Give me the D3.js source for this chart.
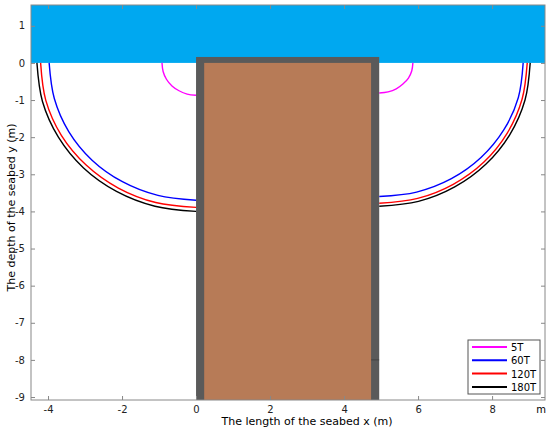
<!DOCTYPE html>
<html><head><meta charset="utf-8">
<script src="https://cdn.jsdelivr.net/npm/d3@7"></script>
<style>body{margin:0;background:#fff}text{font-family:"DejaVu Sans",sans-serif}</style>
</head><body><svg id="c" width="550" height="427"></svg>
<script>
// curve data: [x, y] in metres
const series = ["5T", "60T", "120T", "180T"];
const colors = ["#ff00ff", "#0000ff", "#ff0000", "#000000"];
const leftCurves = [
  [[-0.92,0],[-0.89,-0.23],[-0.80,-0.44],[-0.65,-0.62],[-0.46,-0.75],[-0.24,-0.84],[0,-0.87]],
  [[-3.97,0],[-3.83,-0.96],[-3.44,-1.85],[-2.81,-2.62],[-1.99,-3.20],[-1.03,-3.57],[0,-3.70]],
  [[-4.2,0],[-4.06,-1.01],[-3.64,-1.95],[-2.97,-2.75],[-2.1,-3.37],[-1.09,-3.76],[0,-3.89]],
  [[-4.3,0],[-4.15,-1.04],[-3.72,-2.0],[-3.04,-2.83],[-2.15,-3.46],[-1.11,-3.86],[0,-4.0]]
];
const rightCurves = [
  [[5.86,0],[5.83,-0.21],[5.74,-0.41],[5.59,-0.57],[5.41,-0.70],[5.19,-0.78],[4.95,-0.81]],
  [[8.84,0],[8.71,-0.93],[8.32,-1.80],[7.70,-2.55],[6.90,-3.12],[5.96,-3.48],[4.95,-3.6]],
  [[8.95,0],[8.81,-0.98],[8.41,-1.89],[7.78,-2.67],[6.95,-3.27],[5.99,-3.65],[4.95,-3.78]],
  [[9.03,0],[8.89,-1.0],[8.48,-1.93],[7.83,-2.73],[6.99,-3.34],[6.01,-3.73],[4.95,-3.86]]
];
const xTicks = [-4, -2, 0, 2, 4, 6, 8];
const yTicks = [1, 0, -1, -2, -3, -4, -5, -6, -7, -8, -9];

const svg = d3.select("#c");
const L = 31, R = 545, T = 5, B = 400;
const x = d3.scaleLinear().domain([-4.46, 9.43]).range([L, R]);
const y = d3.scaleLinear().domain([1.56, -9.08]).range([T, B]);
const fmt = d => String(d);

// water
svg.append("rect").attr("x", L).attr("y", T).attr("width", R - L)
  .attr("height", y(0) - T).attr("fill", "#00a8f0");

// curves
const line = d3.line().x(d => x(d[0])).y(d => y(d[1])).curve(d3.curveCatmullRom);
[leftCurves, rightCurves].forEach(set => set.forEach((pts, i) => {
  svg.append("path").attr("d", line(pts)).attr("fill", "none")
    .attr("stroke", colors[i]).attr("stroke-width", 1.4);
}));

// caisson
svg.append("rect").attr("x", x(0)).attr("y", y(0.16))
  .attr("width", x(4.95) - x(0)).attr("height", B - y(0.16)).attr("fill", "#5a5a5a");
svg.append("rect").attr("x", x(0.22)).attr("y", y(0))
  .attr("width", x(4.73) - x(0.22)).attr("height", B - y(0)).attr("fill", "#b77b57");
svg.append("line").attr("x1", x(4.73)).attr("x2", x(4.95)).attr("y1", y(-8)).attr("y2", y(-8))
  .attr("stroke", "#333").attr("stroke-width", 0.6);

// frame + ticks
svg.append("rect").attr("x", L).attr("y", T).attr("width", R - L).attr("height", B - T)
  .attr("fill", "none").attr("stroke", "#888");
svg.append("g").attr("transform", `translate(0,${B})`)
  .call(d3.axisBottom(x).tickValues(xTicks).tickFormat(fmt).tickSizeInner(-4).tickSizeOuter(0).tickPadding(6))
  .call(g => g.select(".domain").remove());
svg.append("g").attr("transform", `translate(${L},0)`)
  .call(d3.axisLeft(y).tickValues(yTicks).tickFormat(fmt).tickSizeInner(-4).tickSizeOuter(0).tickPadding(6))
  .call(g => g.select(".domain").remove());
svg.append("g").attr("transform", `translate(${R},0)`)
  .call(d3.axisRight(y).tickValues(yTicks).tickSize(-4).tickFormat(""))
  .call(g => g.select(".domain").remove());
svg.append("g").attr("transform", `translate(0,${T})`)
  .call(d3.axisTop(x).tickValues(xTicks).tickSize(-4).tickFormat(""))
  .call(g => g.select(".domain").remove());
svg.selectAll(".tick line").attr("stroke", "#888");
svg.selectAll(".tick text").attr("font-size", 10).attr("fill", "#222")
  .style("font-family", "DejaVu Sans");

svg.append("text").attr("x", 541).attr("y", 413).attr("font-size", 10)
  .attr("text-anchor", "middle").text("m");
svg.append("text").attr("x", 307).attr("y", 425).attr("font-size", 11)
  .attr("text-anchor", "middle").text("The length of the seabed x (m)");
svg.append("text").attr("transform", `translate(15,${(T + B) / 2 + 5}) rotate(-90)`)
  .attr("font-size", 11).attr("text-anchor", "middle").text("The depth of the seabed y (m)");

// legend
const lg = svg.append("g").attr("transform", "translate(468,340)");
lg.append("rect").attr("width", 72).attr("height", 54).attr("fill", "#fff").attr("stroke", "#555");
series.forEach((s, i) => {
  const yy = 7 + i * 13.3;
  lg.append("line").attr("x1", 4).attr("x2", 39).attr("y1", yy).attr("y2", yy)
    .attr("stroke", colors[i]).attr("stroke-width", 2);
  lg.append("text").attr("x", 43).attr("y", yy + 4).attr("font-size", 10).text(s);
});
</script></body></html>
